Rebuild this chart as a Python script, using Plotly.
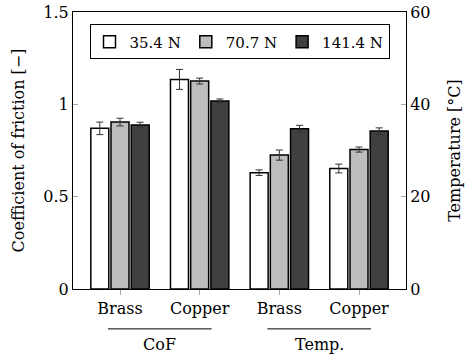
import plotly.graph_objects as go

categories = ["Brass", "Copper", "Brass", "Copper"]
groups = ["CoF", "Temp."]
loads = ["35.4 N", "70.7 N", "141.4 N"]
colors = ["#ffffff", "#bdbdbd", "#404040"]

# CoF (left axis) for categories 0,1 ; Temperature (right axis) for categories 2,3
cof_vals = [[0.870, 1.135], [0.904, 1.126], [0.888, 1.018]]
cof_err = [[0.034, 0.054], [0.021, 0.016], [0.015, 0.011]]
temp_vals = [[25.2, 26.1], [29.0, 30.2], [34.7, 34.2]]
temp_err = [[0.6, 0.95], [1.1, 0.55], [0.75, 0.7]]

y1_ticks = [0, 0.5, 1, 1.5]
y2_ticks = [0, 20, 40, 60]

bar_w = 0.226
step = 0.2535

fig = go.Figure()
xs = list(range(len(categories)))
for i, name in enumerate(loads):
    off = -bar_w / 2 + (i - 1) * step
    fig.add_trace(go.Bar(
        x=xs[:2], y=cof_vals[i], name=name, width=bar_w, offset=off,
        marker=dict(color=colors[i], line=dict(color="black", width=1.5)),
        error_y=dict(type="data", array=cof_err[i], color="#333333", thickness=1, width=3.5),
        yaxis="y", legendgroup=name, showlegend=True))
    fig.add_trace(go.Bar(
        x=xs[2:], y=temp_vals[i], name=name, width=bar_w, offset=off,
        marker=dict(color=colors[i], line=dict(color="black", width=1.5)),
        error_y=dict(type="data", array=temp_err[i], color="#333333", thickness=1, width=3.5),
        yaxis="y2", legendgroup=name, showlegend=False))

ff = "DejaVu Serif"
fs = 16
tf = dict(family=ff, size=fs, color="black")

fig.update_layout(
    width=474, height=361,
    margin=dict(l=73, r=68, t=12, b=72, autoexpand=False),
    paper_bgcolor="white", plot_bgcolor="white",
    font=tf,
    barmode="overlay",
    xaxis=dict(range=[-0.59, 3.59], tickvals=xs, ticktext=categories, automargin=False,
               showline=True, linecolor="black", linewidth=1, mirror=True,
               ticks="outside", ticklen=5, tickcolor="#aaaaaa", showgrid=False,
               zeroline=False, ticklabeloverflow="allow", tickfont=tf),
    yaxis=dict(range=[0, 1.5], tickvals=y1_ticks, ticktext=["0", "0.5", "1", "1.5"],
               automargin=False, ticklabeloverflow="allow", tickfont=tf,
               showline=True, linecolor="black", linewidth=1, mirror=True,
               ticks="inside", ticklen=5, tickcolor="#aaaaaa", showgrid=False, zeroline=False,
               title=dict(text="Coefficient of friction [\u2212]", standoff=14, font=tf)),
    yaxis2=dict(range=[0, 60], tickvals=y2_ticks, overlaying="y", side="right",
                automargin=False, ticklabeloverflow="allow", tickfont=tf,
                showline=True, linecolor="black", linewidth=1,
                ticks="inside", ticklen=5, tickcolor="#aaaaaa", showgrid=False, zeroline=False,
                title=dict(text="Temperature [\u00b0C]", standoff=19, font=tf)),
    legend=dict(orientation="h", x=0.5, xanchor="center", y=0.955, yanchor="top",
                bordercolor="black", borderwidth=1, bgcolor="white",
                font=dict(family=ff, size=15, color="black"), itemwidth=30, tracegroupgap=0),
)

# group labels with underline brackets
for g, name in enumerate(groups):
    a, b = 2 * g, 2 * g + 1
    fig.add_shape(type="line", xref="x", yref="paper", x0=a - 0.15, x1=b + 0.15,
                  y0=-0.144, y1=-0.144, line=dict(color="black", width=1))
    fig.add_annotation(x=(a + b) / 2, xref="x", y=-0.158, yref="paper", yanchor="top",
                       text=name, showarrow=False, font=tf)

fig.write_html("out.html", config={"displayModeBar": False},
               post_script="document.body.style.margin='0';")
